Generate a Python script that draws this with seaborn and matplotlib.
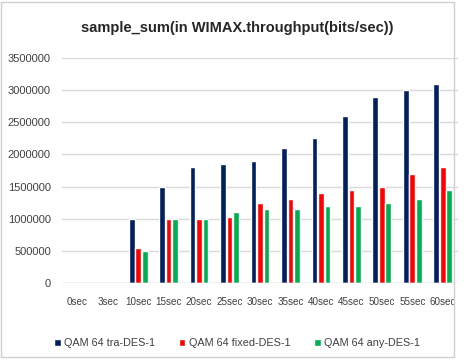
import matplotlib
matplotlib.use("Agg")
import matplotlib.pyplot as plt
import seaborn as sns
import pandas as pd
from matplotlib.patches import Rectangle

categories = ["0sec", "3sec", "10sec", "15sec", "20sec", "25sec", "30sec",
              "35sec", "40sec", "45sec", "50sec", "55sec", "60sec"]
tra = [0, 0, 1000000, 1500000, 1800000, 1850000, 1900000, 2100000,
       2250000, 2600000, 2900000, 3000000, 3100000]
fixed = [0, 0, 550000, 1000000, 1000000, 1020000, 1250000, 1300000,
         1400000, 1450000, 1500000, 1700000, 1800000]
anyd = [0, 0, 500000, 990000, 990000, 1100000, 1150000, 1150000,
        1200000, 1200000, 1250000, 1300000, 1450000]
series_names = ["QAM 64 tra-DES-1", "QAM 64 fixed-DES-1", "QAM 64 any-DES-1"]
yticks = [0, 500000, 1000000, 1500000, 2000000, 2500000, 3000000, 3500000]

rows = []
for name, vals in zip(series_names, [tra, fixed, anyd]):
    for c, v in zip(categories, vals):
        rows.append({"time": c, "value": v, "series": name})
df = pd.DataFrame(rows)

sns.set_theme(style="white")
plt.rcParams["font.family"] = ["Liberation Sans", "DejaVu Sans"]

fig = plt.figure(figsize=(4.74, 3.61), dpi=100)
ax = fig.add_axes([62/474, 1-283/361, (458-62)/474, (283-58)/361])

palette = {"QAM 64 tra-DES-1": "#002060",
           "QAM 64 fixed-DES-1": "#FF0000",
           "QAM 64 any-DES-1": "#00B050"}
sns.barplot(data=df, x="time", y="value", hue="series", order=categories,
            hue_order=series_names, palette=palette, ax=ax,
            width=0.64, gap=0.12, saturation=1, errorbar=None)

ax.set_ylim(0, 3500000)
ax.set_yticks(yticks)
ax.set_yticklabels([str(t) for t in yticks], fontsize=8, color="#404040")
ax.tick_params(axis="x", labelsize=7.1, colors="#404040", length=0, pad=10)
ax.tick_params(axis="y", length=0, pad=8)
ax.set_xlabel("")
ax.set_ylabel("")
ax.grid(axis="y", color="#d9d9d9", linewidth=1)
ax.set_axisbelow(True)
for s in ax.spines.values():
    s.set_visible(False)
ax.axhline(0, color="#d9d9d9", linewidth=1)

ax.set_xlim(-0.5, len(categories) - 0.5)

fig.text(0.5, 1-28/361, "sample_sum(in WIMAX.throughput(bits/sec))",
         ha="center", va="center", fontsize=10.5, fontweight="bold")

leg = ax.legend(loc="center", bbox_to_anchor=(0.5, 1-343/361),
                bbox_transform=fig.transFigure, ncol=3, frameon=False,
                fontsize=7.8, handlelength=0.6, handleheight=0.6,
                columnspacing=2.2, handletextpad=0.3)
for t in leg.get_texts():
    t.set_color("#404040")

fig.patches.append(Rectangle((0.003, 0.01), 0.955, 0.985, transform=fig.transFigure,
                             fill=False, edgecolor="#d0d0d0", linewidth=1))

fig.savefig("out.png", dpi=100)
